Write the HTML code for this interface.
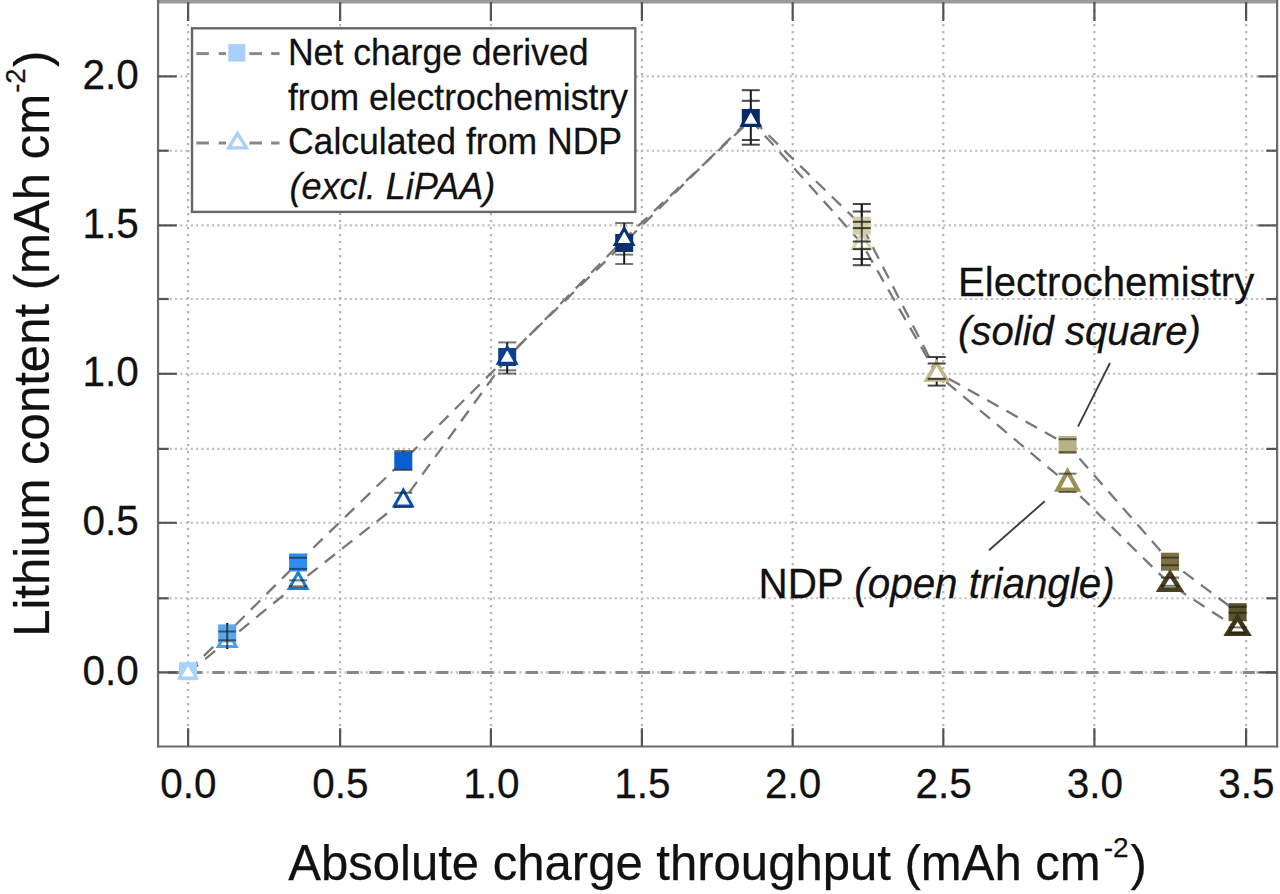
<!DOCTYPE html><html><head><meta charset="utf-8"><style>html,body{margin:0;padding:0;background:#fff;width:1280px;height:894px;overflow:hidden}</style></head><body><svg width="1280" height="894" viewBox="0 0 1280 894" style="position:absolute;left:0;top:0;font-family:'Liberation Sans', sans-serif">
<rect x="0" y="0" width="1280" height="894" fill="#fff"/>
<line x1="159" y1="672.4" x2="1276" y2="672.4" stroke="#bdbdbd" stroke-width="2.1" stroke-dasharray="2.1 3.2"/>
<line x1="159" y1="598.3" x2="1276" y2="598.3" stroke="#bdbdbd" stroke-width="2.1" stroke-dasharray="2.1 3.2"/>
<line x1="159" y1="522.8" x2="1276" y2="522.8" stroke="#bdbdbd" stroke-width="2.1" stroke-dasharray="2.1 3.2"/>
<line x1="159" y1="448.9" x2="1276" y2="448.9" stroke="#bdbdbd" stroke-width="2.1" stroke-dasharray="2.1 3.2"/>
<line x1="159" y1="373.8" x2="1276" y2="373.8" stroke="#bdbdbd" stroke-width="2.1" stroke-dasharray="2.1 3.2"/>
<line x1="159" y1="299.0" x2="1276" y2="299.0" stroke="#bdbdbd" stroke-width="2.1" stroke-dasharray="2.1 3.2"/>
<line x1="159" y1="225.4" x2="1276" y2="225.4" stroke="#bdbdbd" stroke-width="2.1" stroke-dasharray="2.1 3.2"/>
<line x1="159" y1="150.7" x2="1276" y2="150.7" stroke="#bdbdbd" stroke-width="2.1" stroke-dasharray="2.1 3.2"/>
<line x1="159" y1="76.4" x2="1276" y2="76.4" stroke="#bdbdbd" stroke-width="2.1" stroke-dasharray="2.1 3.2"/>
<line x1="188.1" y1="3" x2="188.1" y2="746" stroke="#b5b5b5" stroke-width="2.2" stroke-dasharray="2.3 4.7"/>
<line x1="340.1" y1="3" x2="340.1" y2="746" stroke="#b5b5b5" stroke-width="2.2" stroke-dasharray="2.3 4.7"/>
<line x1="490.9" y1="3" x2="490.9" y2="746" stroke="#b5b5b5" stroke-width="2.2" stroke-dasharray="2.3 4.7"/>
<line x1="641.9" y1="3" x2="641.9" y2="746" stroke="#b5b5b5" stroke-width="2.2" stroke-dasharray="2.3 4.7"/>
<line x1="792.7" y1="3" x2="792.7" y2="746" stroke="#b5b5b5" stroke-width="2.2" stroke-dasharray="2.3 4.7"/>
<line x1="943.3" y1="3" x2="943.3" y2="746" stroke="#b5b5b5" stroke-width="2.2" stroke-dasharray="2.3 4.7"/>
<line x1="1094.4" y1="3" x2="1094.4" y2="746" stroke="#b5b5b5" stroke-width="2.2" stroke-dasharray="2.3 4.7"/>
<line x1="1246.1" y1="3" x2="1246.1" y2="746" stroke="#b5b5b5" stroke-width="2.2" stroke-dasharray="2.3 4.7"/>
<line x1="158" y1="672.5" x2="1277" y2="672.5" stroke="#888" stroke-width="3" stroke-dasharray="12 10.4" stroke-dashoffset="12.7"/>
<line x1="157" y1="1.7" x2="1278" y2="1.7" stroke="#999" stroke-width="3.4"/>
<line x1="158.05" y1="0" x2="158.05" y2="747.6" stroke="#6c6c6c" stroke-width="2.2"/>
<line x1="1277.1" y1="0" x2="1277.1" y2="747.6" stroke="#6c6c6c" stroke-width="2.2"/>
<line x1="157" y1="746.5" x2="1278.2" y2="746.5" stroke="#6c6c6c" stroke-width="2.2"/>
<line x1="158" y1="672.4" x2="176.8" y2="672.4" stroke="#555" stroke-width="2.2"/>
<line x1="1277" y1="672.4" x2="1258.2" y2="672.4" stroke="#555" stroke-width="2.2"/>
<line x1="158" y1="598.3" x2="168.7" y2="598.3" stroke="#555" stroke-width="2.2"/>
<line x1="1277" y1="598.3" x2="1266.3" y2="598.3" stroke="#555" stroke-width="2.2"/>
<line x1="158" y1="522.8" x2="176.8" y2="522.8" stroke="#555" stroke-width="2.2"/>
<line x1="1277" y1="522.8" x2="1258.2" y2="522.8" stroke="#555" stroke-width="2.2"/>
<line x1="158" y1="448.9" x2="168.7" y2="448.9" stroke="#555" stroke-width="2.2"/>
<line x1="1277" y1="448.9" x2="1266.3" y2="448.9" stroke="#555" stroke-width="2.2"/>
<line x1="158" y1="373.8" x2="176.8" y2="373.8" stroke="#555" stroke-width="2.2"/>
<line x1="1277" y1="373.8" x2="1258.2" y2="373.8" stroke="#555" stroke-width="2.2"/>
<line x1="158" y1="299.0" x2="168.7" y2="299.0" stroke="#555" stroke-width="2.2"/>
<line x1="1277" y1="299.0" x2="1266.3" y2="299.0" stroke="#555" stroke-width="2.2"/>
<line x1="158" y1="225.4" x2="176.8" y2="225.4" stroke="#555" stroke-width="2.2"/>
<line x1="1277" y1="225.4" x2="1258.2" y2="225.4" stroke="#555" stroke-width="2.2"/>
<line x1="158" y1="150.7" x2="168.7" y2="150.7" stroke="#555" stroke-width="2.2"/>
<line x1="1277" y1="150.7" x2="1266.3" y2="150.7" stroke="#555" stroke-width="2.2"/>
<line x1="158" y1="76.4" x2="176.8" y2="76.4" stroke="#555" stroke-width="2.2"/>
<line x1="1277" y1="76.4" x2="1258.2" y2="76.4" stroke="#555" stroke-width="2.2"/>
<line x1="188.1" y1="746.5" x2="188.1" y2="728.2" stroke="#555" stroke-width="2.2"/>
<line x1="188.1" y1="2" x2="188.1" y2="21" stroke="#555" stroke-width="2.2"/>
<line x1="340.1" y1="746.5" x2="340.1" y2="728.2" stroke="#555" stroke-width="2.2"/>
<line x1="340.1" y1="2" x2="340.1" y2="21" stroke="#555" stroke-width="2.2"/>
<line x1="490.9" y1="746.5" x2="490.9" y2="728.2" stroke="#555" stroke-width="2.2"/>
<line x1="490.9" y1="2" x2="490.9" y2="21" stroke="#555" stroke-width="2.2"/>
<line x1="641.9" y1="746.5" x2="641.9" y2="728.2" stroke="#555" stroke-width="2.2"/>
<line x1="641.9" y1="2" x2="641.9" y2="21" stroke="#555" stroke-width="2.2"/>
<line x1="792.7" y1="746.5" x2="792.7" y2="728.2" stroke="#555" stroke-width="2.2"/>
<line x1="792.7" y1="2" x2="792.7" y2="21" stroke="#555" stroke-width="2.2"/>
<line x1="943.3" y1="746.5" x2="943.3" y2="728.2" stroke="#555" stroke-width="2.2"/>
<line x1="943.3" y1="2" x2="943.3" y2="21" stroke="#555" stroke-width="2.2"/>
<line x1="1094.4" y1="746.5" x2="1094.4" y2="728.2" stroke="#555" stroke-width="2.2"/>
<line x1="1094.4" y1="2" x2="1094.4" y2="21" stroke="#555" stroke-width="2.2"/>
<line x1="1246.1" y1="746.5" x2="1246.1" y2="728.2" stroke="#555" stroke-width="2.2"/>
<line x1="1246.1" y1="2" x2="1246.1" y2="21" stroke="#555" stroke-width="2.2"/>
<polyline points="188,671.2 227.2,633.4 298.1,562.5 403.3,460.8 507.2,357 624.2,243 750.8,118 861.8,225.6 936.7,372 1067.6,444.9 1170,561.7 1237.6,612.2" stroke="#787878" stroke-width="2.3" stroke-dasharray="13 9" fill="none"/>
<polyline points="188,673.0 227.2,641.2 298.1,583.2 403.3,500.7 507.2,357.9 624.2,239.2 750.8,120.0 861.8,243.5 936.7,374.1 1067.6,483.6 1170,584.2 1237.6,628.3" stroke="#787878" stroke-width="2.3" stroke-dasharray="13 9" fill="none"/>
<line x1="227.2" y1="623" x2="227.2" y2="649" stroke="#1a1a1a" stroke-width="2"/>
<line x1="298.1" y1="557.8" x2="298.1" y2="568.9" stroke="#1a1a1a" stroke-width="2"/>
<line x1="298.1" y1="580.3" x2="298.1" y2="586.3" stroke="#1a1a1a" stroke-width="2"/>
<line x1="403.3" y1="451" x2="403.3" y2="470" stroke="#1a1a1a" stroke-width="2"/>
<line x1="403.3" y1="492.8" x2="403.3" y2="507" stroke="#1a1a1a" stroke-width="2"/>
<line x1="507.2" y1="342.4" x2="507.2" y2="373.6" stroke="#1a1a1a" stroke-width="2"/>
<line x1="624.2" y1="223" x2="624.2" y2="264" stroke="#1a1a1a" stroke-width="2"/>
<line x1="750.8" y1="90.2" x2="750.8" y2="144.7" stroke="#1a1a1a" stroke-width="2"/>
<line x1="861.8" y1="204" x2="861.8" y2="265.2" stroke="#1a1a1a" stroke-width="2"/>
<line x1="936.7" y1="357" x2="936.7" y2="385.6" stroke="#1a1a1a" stroke-width="2"/>
<line x1="1067.6" y1="439.2" x2="1067.6" y2="452.2" stroke="#1a1a1a" stroke-width="2"/>
<line x1="1067.6" y1="473.7" x2="1067.6" y2="492" stroke="#1a1a1a" stroke-width="2"/>
<line x1="1170" y1="557.6" x2="1170" y2="565.2" stroke="#1a1a1a" stroke-width="2"/>
<line x1="1170" y1="577.6" x2="1170" y2="585.8" stroke="#1a1a1a" stroke-width="2"/>
<line x1="1237.6" y1="606.9" x2="1237.6" y2="612.8" stroke="#1a1a1a" stroke-width="2"/>
<line x1="1237.6" y1="627.4" x2="1237.6" y2="632.7" stroke="#1a1a1a" stroke-width="2"/>
<rect x="179.0" y="662.2" width="18" height="18" fill="#a8d4f8" fill-opacity="1"/>
<rect x="289.1" y="553.5" width="18" height="18" fill="#2e8ef0" fill-opacity="1"/>
<rect x="394.3" y="451.8" width="18" height="18" fill="#0a5fd0" fill-opacity="1"/>
<rect x="498.2" y="348.0" width="18" height="18" fill="#0d3f8f" fill-opacity="1"/>
<rect x="615.2" y="234.0" width="18" height="18" fill="#0a3070" fill-opacity="1"/>
<rect x="741.8" y="109.0" width="18" height="18" fill="#0a2a6a" fill-opacity="1"/>
<rect x="852.8" y="216.6" width="18" height="18" fill="#d4cfa6" fill-opacity="1"/>
<rect x="1058.6" y="435.9" width="18" height="18" fill="#bab183" fill-opacity="1"/>
<rect x="1161.0" y="552.7" width="18" height="18" fill="#7d7142" fill-opacity="1"/>
<rect x="1228.6" y="603.2" width="18" height="18" fill="#5c532b" fill-opacity="1"/>
<polygon points="188.00,663.11 196.56,678.00 179.44,678.00" fill="#fff" fill-opacity="1" stroke="#a8d4f8" stroke-width="3.0" stroke-opacity="1" stroke-linejoin="miter"/>
<polygon points="227.20,630.57 236.14,646.50 218.26,646.50" fill="#fff" fill-opacity="1" stroke="#4aa0ea" stroke-width="3.0" stroke-opacity="1" stroke-linejoin="miter"/>
<polygon points="298.10,572.57 307.04,588.50 289.16,588.50" fill="#fff" fill-opacity="1" stroke="#1a7ee0" stroke-width="3.0" stroke-opacity="1" stroke-linejoin="miter"/>
<polygon points="403.30,490.07 412.24,506.00 394.36,506.00" fill="#fff" fill-opacity="1" stroke="#0a50b0" stroke-width="3.0" stroke-opacity="1" stroke-linejoin="miter"/>
<polygon points="507.20,347.27 516.14,363.20 498.26,363.20" fill="#fff" fill-opacity="1" stroke="#0d3f8f" stroke-width="3.0" stroke-opacity="1" stroke-linejoin="miter"/>
<polygon points="624.20,228.57 633.14,244.50 615.26,244.50" fill="#fff" fill-opacity="1" stroke="#0a3070" stroke-width="3.0" stroke-opacity="1" stroke-linejoin="miter"/>
<polygon points="750.80,109.37 759.74,125.30 741.86,125.30" fill="#fff" fill-opacity="1" stroke="#0a2a6a" stroke-width="3.0" stroke-opacity="1" stroke-linejoin="miter"/>
<polygon points="861.80,232.87 870.74,248.80 852.86,248.80" fill="#fff" fill-opacity="1" stroke="#d6d2ac" stroke-width="3.0" stroke-opacity="1" stroke-linejoin="miter"/>
<polygon points="936.70,362.67 946.73,379.85 926.67,379.85" fill="#fff" fill-opacity="1" stroke="#c2b682" stroke-width="3.7" stroke-opacity="1" stroke-linejoin="miter"/>
<polygon points="1067.60,471.44 1077.69,489.70 1057.51,489.70" fill="#fff" fill-opacity="1" stroke="#9a8f55" stroke-width="4.2" stroke-opacity="1" stroke-linejoin="miter"/>
<polygon points="1170.00,573.27 1180.12,589.60 1159.88,589.60" fill="#fff" fill-opacity="1" stroke="#4a4020" stroke-width="4.6" stroke-opacity="1" stroke-linejoin="miter"/>
<polygon points="1237.60,617.37 1247.72,633.70 1227.48,633.70" fill="#fff" fill-opacity="1" stroke="#3e3618" stroke-width="4.6" stroke-opacity="1" stroke-linejoin="miter"/>
<rect x="218.2" y="624.4" width="18" height="18" fill="#5aa8ec" fill-opacity="1"/>
<line x1="227.2" y1="623" x2="227.2" y2="649" stroke="#1a1a1a" stroke-width="2" stroke-opacity="0.7"/>
<line x1="861.8" y1="204" x2="861.8" y2="265.2" stroke="#1a1a1a" stroke-width="2" stroke-opacity="0.75"/>
<line x1="218.2" y1="631.5" x2="236.2" y2="631.5" stroke="#1a1a1a" stroke-width="2" stroke-opacity="0.6"/>
<line x1="218.2" y1="640.3" x2="236.2" y2="640.3" stroke="#1a1a1a" stroke-width="2" stroke-opacity="0.6"/>
<line x1="289.1" y1="557.8" x2="307.1" y2="557.8" stroke="#1a1a1a" stroke-width="2" stroke-opacity="0.6"/>
<line x1="289.1" y1="568.9" x2="307.1" y2="568.9" stroke="#1a1a1a" stroke-width="2" stroke-opacity="0.6"/>
<line x1="289.1" y1="580.3" x2="307.1" y2="580.3" stroke="#1a1a1a" stroke-width="2" stroke-opacity="0.6"/>
<line x1="289.1" y1="586.3" x2="307.1" y2="586.3" stroke="#1a1a1a" stroke-width="2" stroke-opacity="0.6"/>
<line x1="394.3" y1="451" x2="412.3" y2="451" stroke="#1a1a1a" stroke-width="2" stroke-opacity="0.6"/>
<line x1="394.3" y1="470" x2="412.3" y2="470" stroke="#1a1a1a" stroke-width="2" stroke-opacity="0.6"/>
<line x1="394.3" y1="492.8" x2="412.3" y2="492.8" stroke="#1a1a1a" stroke-width="2" stroke-opacity="0.6"/>
<line x1="394.3" y1="507" x2="412.3" y2="507" stroke="#1a1a1a" stroke-width="2" stroke-opacity="0.6"/>
<line x1="498.2" y1="342.4" x2="516.2" y2="342.4" stroke="#1a1a1a" stroke-width="2" stroke-opacity="0.6"/>
<line x1="498.2" y1="370.3" x2="516.2" y2="370.3" stroke="#1a1a1a" stroke-width="2" stroke-opacity="0.6"/>
<line x1="498.2" y1="373.6" x2="516.2" y2="373.6" stroke="#1a1a1a" stroke-width="2" stroke-opacity="0.6"/>
<line x1="615.2" y1="223" x2="633.2" y2="223" stroke="#1a1a1a" stroke-width="2" stroke-opacity="0.6"/>
<line x1="615.2" y1="254.6" x2="633.2" y2="254.6" stroke="#1a1a1a" stroke-width="2" stroke-opacity="0.6"/>
<line x1="615.2" y1="264" x2="633.2" y2="264" stroke="#1a1a1a" stroke-width="2" stroke-opacity="0.6"/>
<line x1="741.8" y1="90.2" x2="759.8" y2="90.2" stroke="#1a1a1a" stroke-width="2" stroke-opacity="0.8"/>
<line x1="741.8" y1="100.8" x2="759.8" y2="100.8" stroke="#1a1a1a" stroke-width="2" stroke-opacity="0.8"/>
<line x1="741.8" y1="140" x2="759.8" y2="140" stroke="#1a1a1a" stroke-width="2" stroke-opacity="0.8"/>
<line x1="741.8" y1="144.7" x2="759.8" y2="144.7" stroke="#1a1a1a" stroke-width="2" stroke-opacity="0.8"/>
<line x1="852.8" y1="204" x2="870.8" y2="204" stroke="#1a1a1a" stroke-width="2" stroke-opacity="0.8"/>
<line x1="852.8" y1="211.5" x2="870.8" y2="211.5" stroke="#1a1a1a" stroke-width="2" stroke-opacity="0.8"/>
<line x1="852.8" y1="221.8" x2="870.8" y2="221.8" stroke="#1a1a1a" stroke-width="2" stroke-opacity="0.8"/>
<line x1="852.8" y1="228.1" x2="870.8" y2="228.1" stroke="#1a1a1a" stroke-width="2" stroke-opacity="0.8"/>
<line x1="852.8" y1="241.5" x2="870.8" y2="241.5" stroke="#1a1a1a" stroke-width="2" stroke-opacity="0.8"/>
<line x1="852.8" y1="249.1" x2="870.8" y2="249.1" stroke="#1a1a1a" stroke-width="2" stroke-opacity="0.8"/>
<line x1="852.8" y1="259" x2="870.8" y2="259" stroke="#1a1a1a" stroke-width="2" stroke-opacity="0.8"/>
<line x1="852.8" y1="265.2" x2="870.8" y2="265.2" stroke="#1a1a1a" stroke-width="2" stroke-opacity="0.8"/>
<line x1="927.7" y1="357" x2="945.7" y2="357" stroke="#1a1a1a" stroke-width="2" stroke-opacity="0.8"/>
<line x1="927.7" y1="363.5" x2="945.7" y2="363.5" stroke="#1a1a1a" stroke-width="2" stroke-opacity="0.8"/>
<line x1="927.7" y1="378.8" x2="945.7" y2="378.8" stroke="#1a1a1a" stroke-width="2" stroke-opacity="0.8"/>
<line x1="927.7" y1="385.6" x2="945.7" y2="385.6" stroke="#1a1a1a" stroke-width="2" stroke-opacity="0.8"/>
<line x1="1058.6" y1="439.2" x2="1076.6" y2="439.2" stroke="#1a1a1a" stroke-width="2" stroke-opacity="0.6"/>
<line x1="1058.6" y1="452.2" x2="1076.6" y2="452.2" stroke="#1a1a1a" stroke-width="2" stroke-opacity="0.6"/>
<line x1="1058.6" y1="473.7" x2="1076.6" y2="473.7" stroke="#1a1a1a" stroke-width="2" stroke-opacity="0.6"/>
<line x1="1058.6" y1="492" x2="1076.6" y2="492" stroke="#1a1a1a" stroke-width="2" stroke-opacity="0.6"/>
<line x1="1161" y1="557.6" x2="1179" y2="557.6" stroke="#1a1a1a" stroke-width="2" stroke-opacity="0.6"/>
<line x1="1161" y1="565.2" x2="1179" y2="565.2" stroke="#1a1a1a" stroke-width="2" stroke-opacity="0.6"/>
<line x1="1161" y1="577.6" x2="1179" y2="577.6" stroke="#1a1a1a" stroke-width="2" stroke-opacity="0.6"/>
<line x1="1161" y1="585.8" x2="1179" y2="585.8" stroke="#1a1a1a" stroke-width="2" stroke-opacity="0.6"/>
<line x1="1228.6" y1="606.9" x2="1246.6" y2="606.9" stroke="#1a1a1a" stroke-width="2" stroke-opacity="0.6"/>
<line x1="1228.6" y1="612.8" x2="1246.6" y2="612.8" stroke="#1a1a1a" stroke-width="2" stroke-opacity="0.6"/>
<line x1="1228.6" y1="627.4" x2="1246.6" y2="627.4" stroke="#1a1a1a" stroke-width="2" stroke-opacity="0.6"/>
<line x1="1228.6" y1="632.7" x2="1246.6" y2="632.7" stroke="#1a1a1a" stroke-width="2" stroke-opacity="0.6"/>
<line x1="1110" y1="363" x2="1078" y2="426.6" stroke="#3a3a3a" stroke-width="1.8"/>
<line x1="1044.7" y1="501.3" x2="989" y2="550.3" stroke="#3a3a3a" stroke-width="1.8"/>
<rect x="192" y="28.3" width="443.3" height="183.6" fill="#fff" stroke="#666" stroke-width="2.4"/>
<line x1="196.3" y1="53.6" x2="208.9" y2="53.6" stroke="#888" stroke-width="3"/>
<line x1="218.7" y1="53.6" x2="226" y2="53.6" stroke="#888" stroke-width="3"/>
<line x1="249.4" y1="53.6" x2="262" y2="53.6" stroke="#888" stroke-width="3"/>
<line x1="271.1" y1="53.6" x2="279.5" y2="53.6" stroke="#888" stroke-width="3"/>
<line x1="196.3" y1="143" x2="208.9" y2="143" stroke="#888" stroke-width="3"/>
<line x1="218.7" y1="143" x2="226" y2="143" stroke="#888" stroke-width="3"/>
<line x1="249.4" y1="143" x2="262" y2="143" stroke="#888" stroke-width="3"/>
<line x1="271.1" y1="143" x2="279.5" y2="143" stroke="#888" stroke-width="3"/>
<rect x="228.3" y="44.1" width="17" height="17.5" fill="#a8d0f8"/>
<polygon points="237.50,133.46 246.31,147.85 228.69,147.85" fill="#fff" fill-opacity="1" stroke="#a8d0f8" stroke-width="3.3" stroke-opacity="1" stroke-linejoin="miter"/>
<text transform="translate(287.9,65.2) scale(1,1.03)" font-size="35.6" text-anchor="start" fill="#111" stroke="#111" stroke-width="0.25" >Net charge derived</text>
<text transform="translate(287.9,109.6) scale(1,1.03)" font-size="35.6" text-anchor="start" fill="#111" stroke="#111" stroke-width="0.25" >from electrochemistry</text>
<text transform="translate(287.9,154) scale(1,1.04)" font-size="35.6" text-anchor="start" fill="#111" stroke="#111" stroke-width="0.25" >Calculated from NDP</text>
<text transform="translate(289.5,199) scale(1,1.03)" font-size="36.1" text-anchor="start" fill="#111" stroke="#111" stroke-width="0.25" font-style="italic">(excl. LiPAA)</text>
<text transform="translate(138.7,684.8) scale(1,1.07)" font-size="40.5" text-anchor="end" fill="#111" stroke="#111" stroke-width="0.25" >0.0</text>
<text transform="translate(138.7,535.2) scale(1,1.07)" font-size="40.5" text-anchor="end" fill="#111" stroke="#111" stroke-width="0.25" >0.5</text>
<text transform="translate(138.7,386.2) scale(1,1.07)" font-size="40.5" text-anchor="end" fill="#111" stroke="#111" stroke-width="0.25" >1.0</text>
<text transform="translate(138.7,237.8) scale(1,1.07)" font-size="40.5" text-anchor="end" fill="#111" stroke="#111" stroke-width="0.25" >1.5</text>
<text transform="translate(138.7,88.8) scale(1,1.07)" font-size="40.5" text-anchor="end" fill="#111" stroke="#111" stroke-width="0.25" >2.0</text>
<text transform="translate(188.5,798) scale(1,1.07)" font-size="40.5" text-anchor="middle" fill="#111" stroke="#111" stroke-width="0.25" >0.0</text>
<text transform="translate(340.5,798) scale(1,1.07)" font-size="40.5" text-anchor="middle" fill="#111" stroke="#111" stroke-width="0.25" >0.5</text>
<text transform="translate(491.3,798) scale(1,1.07)" font-size="40.5" text-anchor="middle" fill="#111" stroke="#111" stroke-width="0.25" >1.0</text>
<text transform="translate(642.3,798) scale(1,1.07)" font-size="40.5" text-anchor="middle" fill="#111" stroke="#111" stroke-width="0.25" >1.5</text>
<text transform="translate(793.1,798) scale(1,1.07)" font-size="40.5" text-anchor="middle" fill="#111" stroke="#111" stroke-width="0.25" >2.0</text>
<text transform="translate(943.7,798) scale(1,1.07)" font-size="40.5" text-anchor="middle" fill="#111" stroke="#111" stroke-width="0.25" >2.5</text>
<text transform="translate(1094.8,798) scale(1,1.07)" font-size="40.5" text-anchor="middle" fill="#111" stroke="#111" stroke-width="0.25" >3.0</text>
<text transform="translate(1246.5,798) scale(1,1.07)" font-size="40.5" text-anchor="middle" fill="#111" stroke="#111" stroke-width="0.25" >3.5</text>
<text transform="translate(958,295.5) scale(1,1.03)" font-size="40.1" text-anchor="start" fill="#111" stroke="#111" stroke-width="0.25" >Electrochemistry</text>
<text transform="translate(958,345) scale(1,1.03)" font-size="40.1" text-anchor="start" fill="#111" stroke="#111" stroke-width="0.25" font-style="italic">(solid square)</text>
<text transform="translate(758.5,597.6) scale(1,1.03)" font-size="40.4" text-anchor="start" fill="#111" stroke="#111" stroke-width="0.25" >NDP <tspan font-style="italic">(open triangle)</tspan></text>
<text transform="translate(49.4,343.7) rotate(-90)" text-anchor="middle" font-size="49.1" fill="#111" stroke="#111" stroke-width="0.25">Lithium content (mAh cm<tspan font-size="27.5" dx="1" dy="-24">-2</tspan><tspan dx="1.5" dy="24">)</tspan></text>
<text transform="translate(717.6,879.5) scale(1,1.0)" text-anchor="middle" font-size="49.05" fill="#111" stroke="#111" stroke-width="0.25">Absolute charge throughput (mAh cm<tspan font-size="28" dx="3" dy="-23">-2</tspan><tspan dx="2" dy="23">)</tspan></text>
</svg></body></html>
